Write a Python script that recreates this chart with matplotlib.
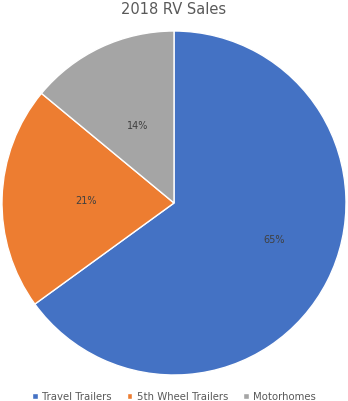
import matplotlib.pyplot as plt
import numpy as np

categories = ['Travel Trailers', '5th Wheel Trailers', 'Motorhomes']
shares = [65, 21, 14]
colors = ['#4472C4', '#ED7D31', '#A5A5A5']
label_radius = [0.62, 0.51, 0.50]

fig = plt.figure(figsize=(3.48, 4.02), dpi=100)
ax = fig.add_axes([2 / 348, 26 / 402, 344 / 348, 344 / 402])

wedges, _ = ax.pie(shares, colors=colors, startangle=90, counterclock=False,
                   wedgeprops=dict(edgecolor='white', linewidth=1))

for w, s, r in zip(wedges, shares, label_radius):
    ang = np.deg2rad((w.theta1 + w.theta2) / 2)
    if s == 65:
        ang = np.deg2rad(-20)
    ax.text(r * np.cos(ang), r * np.sin(ang), f'{s}%', ha='center', va='center',
            fontsize=7, color='#404040')
ax.set_xlim(-1, 1)
ax.set_ylim(-1, 1)
ax.set_aspect('equal')

fig.text(0.5, 1 - 10 / 402, '2018 RV Sales', ha='center', va='center',
         fontsize=10.5, color='#595959')

fig.legend(wedges, categories, loc='center', bbox_to_anchor=(0.5, 1 - 397.5 / 402),
           ncol=3, frameon=False, fontsize=7.3, labelcolor='#595959',
           handlelength=0.55, handleheight=0.55, handletextpad=0.4, columnspacing=1.5)

fig.savefig('out.png', dpi=100)
